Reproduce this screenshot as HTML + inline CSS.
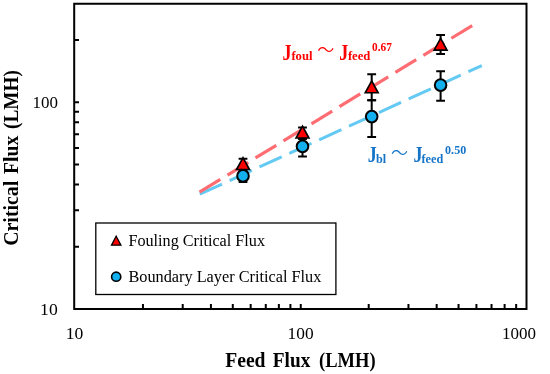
<!DOCTYPE html>
<html><head><meta charset="utf-8"><title>Critical Flux vs Feed Flux</title>
<style>
html,body{margin:0;padding:0;background:#fff;}
body{width:550px;height:374px;overflow:hidden;}
svg{display:block;}
</style></head><body>
<svg width="550" height="374" viewBox="0 0 550 374">
<rect width="550" height="374" fill="#fff"/>
<path d="M74.2 3.7H526.5V309.1H74.2Z" fill="none" stroke="#000" stroke-width="2"/>
<path d="M75 246.75h4 M75 210.33h4 M75 184.49h4 M75 164.45h4 M75 148.08h4 M75 134.23h4 M75 122.24h4 M75 111.66h4 M75 102.20h4 M75 39.95h4 M142.96 308v-4 M182.71 308v-4 M210.92 308v-4 M232.79 308v-4 M250.67 308v-4 M265.78 308v-4 M278.87 308v-4 M290.42 308v-4 M300.75 308v-4 M368.71 308v-4 M408.46 308v-4 M436.67 308v-4 M458.54 308v-4 M476.42 308v-4 M491.53 308v-4 M504.62 308v-4 M516.17 308v-4" stroke="#000" stroke-width="2" fill="none"/>
<line x1="199.8" y1="194.2" x2="481.8" y2="65.6" stroke="#64caf4" stroke-width="3" stroke-dasharray="24.4 8.4"/>
<line x1="199.5" y1="192.2" x2="472.4" y2="25.4" stroke="#ff6c72" stroke-width="3.2" stroke-dasharray="24.4 8.4"/>
<path d="M243.0 158.8V169.0M238.60 158.8h8.8M238.60 169.0h8.8" stroke="#000" stroke-width="2" fill="none"/>
<path d="M243.0 170.0V182.1M238.60 170.0h8.8M238.60 182.1h8.8" stroke="#000" stroke-width="2" fill="none"/>
<path d="M302.5 127.6V137.0M298.10 127.6h8.8M298.10 137.0h8.8" stroke="#000" stroke-width="2" fill="none"/>
<path d="M302.5 139.0V156.6M298.10 139.0h8.8M298.10 156.6h8.8" stroke="#000" stroke-width="2" fill="none"/>
<path d="M371.7 74.3V100.3M367.30 74.3h8.8M367.30 100.3h8.8" stroke="#000" stroke-width="2" fill="none"/>
<path d="M371.7 100.3V136.9M367.30 100.3h8.8M367.30 136.9h8.8" stroke="#000" stroke-width="2" fill="none"/>
<path d="M440.6 35.0V54.0M436.20 35.0h8.8M436.20 54.0h8.8" stroke="#000" stroke-width="2" fill="none"/>
<path d="M440.6 71.2V100.7M436.20 71.2h8.8M436.20 100.7h8.8" stroke="#000" stroke-width="2" fill="none"/>
<path d="M243.0 157.68L249.45 169.48H236.55Z" fill="#ff0000" stroke="#000" stroke-width="1.65"/>
<path d="M302.5 126.18L308.95 137.98H296.05Z" fill="#ff0000" stroke="#000" stroke-width="1.65"/>
<path d="M371.7 80.97L378.15 92.77H365.25Z" fill="#ff0000" stroke="#000" stroke-width="1.65"/>
<path d="M440.6 38.38L447.05 50.17H434.15Z" fill="#ff0000" stroke="#000" stroke-width="1.65"/>
<circle cx="243.0" cy="175.9" r="5.8" fill="#12b0ee" stroke="#000" stroke-width="2.0"/>
<circle cx="302.5" cy="146.4" r="5.8" fill="#12b0ee" stroke="#000" stroke-width="2.0"/>
<circle cx="371.7" cy="116.6" r="5.8" fill="#12b0ee" stroke="#000" stroke-width="2.0"/>
<circle cx="440.6" cy="85.1" r="5.8" fill="#12b0ee" stroke="#000" stroke-width="2.0"/>
<rect x="95.8" y="223" width="240.1" height="71.5" fill="#fff" stroke="#000" stroke-width="1.3"/>
<path d="M116.2 236.25L120.90 245.15H111.50Z" fill="#ff0000" stroke="#000" stroke-width="1.3"/>
<circle cx="116.2" cy="276.7" r="4.6" fill="#12b0ee" stroke="#000" stroke-width="1.6"/>
<text x="128.4" y="245.5" font-family="'Liberation Serif', serif" font-size="15.7" textLength="136.6" lengthAdjust="spacingAndGlyphs">Fouling Critical Flux</text>
<text x="128.4" y="281.8" font-family="'Liberation Serif', serif" font-size="15.7" textLength="193.0" lengthAdjust="spacingAndGlyphs">Boundary Layer Critical Flux</text>
<text x="57.9" y="107.5" font-family="'Liberation Serif', serif" font-size="17.6" text-anchor="end" textLength="25.4" lengthAdjust="spacingAndGlyphs">100</text>
<text x="57.7" y="314.6" font-family="'Liberation Serif', serif" font-size="17.6" text-anchor="end" textLength="17.6" lengthAdjust="spacingAndGlyphs">10</text>
<text x="74.45" y="338.8" font-family="'Liberation Serif', serif" font-size="17.6" text-anchor="middle" textLength="17.6" lengthAdjust="spacingAndGlyphs">10</text>
<text x="300.6" y="338.8" font-family="'Liberation Serif', serif" font-size="17.6" text-anchor="middle" textLength="26.0" lengthAdjust="spacingAndGlyphs">100</text>
<text x="518.9" y="338.6" font-family="'Liberation Serif', serif" font-size="17.6" text-anchor="middle" textLength="34.0" lengthAdjust="spacingAndGlyphs">1000</text>
<text y="366.8" font-family="'Liberation Serif', serif" font-size="20.5" font-weight="bold"><tspan x="225.2" textLength="40.32" lengthAdjust="spacingAndGlyphs">Feed</tspan> <tspan x="272.8" textLength="37.48" lengthAdjust="spacingAndGlyphs">Flux</tspan> <tspan x="319.0" textLength="56.57" lengthAdjust="spacingAndGlyphs">(LMH)</tspan></text>
<text transform="translate(18.1 244.8) rotate(-90)" y="0" font-family="'Liberation Serif', serif" font-size="20.5" font-weight="bold"><tspan x="-0.97" textLength="65.03" lengthAdjust="spacingAndGlyphs">Critical</tspan> <tspan x="70.9" textLength="38.28" lengthAdjust="spacingAndGlyphs">Flux</tspan> <tspan x="115.86" textLength="58.83" lengthAdjust="spacingAndGlyphs">(LMH)</tspan></text>
<text fill="#ff0000" font-family="'Liberation Serif', serif" font-weight="bold"><tspan x="282.4" y="60.00" font-size="24" textLength="9.0" lengthAdjust="spacingAndGlyphs">J</tspan><tspan x="291.4" y="60.30" font-size="13.5" textLength="21.1" lengthAdjust="spacingAndGlyphs">foul</tspan> <tspan x="317.20" y="56.30" font-family="'Liberation Serif', 'Noto Sans CJK SC', sans-serif" font-weight="350" font-size="17">～</tspan> <tspan x="339.3" y="60.00" font-size="24" textLength="9.0" lengthAdjust="spacingAndGlyphs">J</tspan><tspan x="347.9" y="60.30" font-size="13.5" textLength="22.5" lengthAdjust="spacingAndGlyphs">feed</tspan><tspan x="372.1" y="50.90" font-size="12.2" textLength="19.8" lengthAdjust="spacingAndGlyphs">0.67</tspan></text>
<text fill="#1574c8" font-family="'Liberation Serif', serif" font-weight="bold"><tspan x="367.8" y="162.30" font-size="24" textLength="9.0" lengthAdjust="spacingAndGlyphs">J</tspan><tspan x="376.0" y="162.60" font-size="13.5" textLength="10.2" lengthAdjust="spacingAndGlyphs">bl</tspan> <tspan x="391.00" y="158.60" font-family="'Liberation Serif', 'Noto Sans CJK SC', sans-serif" font-weight="350" font-size="17">～</tspan> <tspan x="413.6" y="162.30" font-size="24" textLength="9.0" lengthAdjust="spacingAndGlyphs">J</tspan><tspan x="421.5" y="162.60" font-size="13.5" textLength="21.8" lengthAdjust="spacingAndGlyphs">feed</tspan><tspan x="445.1" y="153.80" font-size="12.2" textLength="21.1" lengthAdjust="spacingAndGlyphs">0.50</tspan></text>
</svg>
</body></html>
